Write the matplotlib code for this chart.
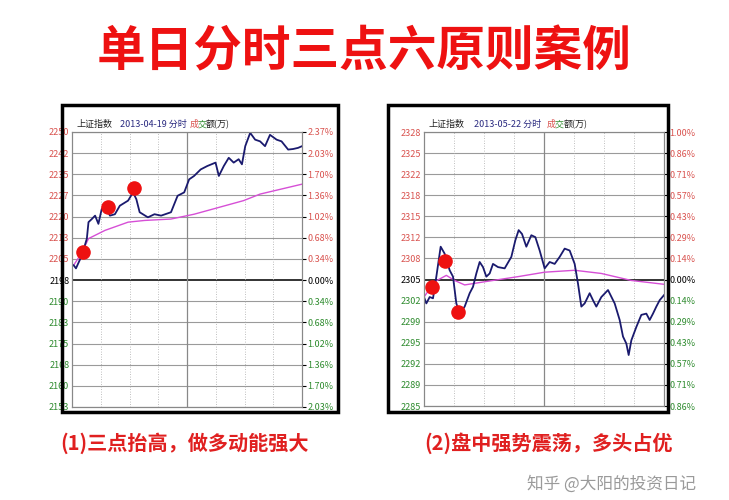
import matplotlib
matplotlib.use("Agg")
import matplotlib.pyplot as plt
from matplotlib.patches import Rectangle
import numpy as np

plt.rcParams['font.family'] = ['Noto Sans CJK SC', 'DejaVu Sans']

# ---- data: left chart (2013-04-19) ----
L_px = [35,42,60,75,80,90,100,110,120,130,145,160,175,200,215,225,235,260,280,300,330,350,370,385,400,420,440,465,475,490,505,520,535,545,555,570,585,600,615,630,650,665,685,700,715,727]
L_price = [2203.0,2201.9,2206.5,2212.4,2218.2,2219.3,2220.5,2217.6,2222.8,2224.0,2220.5,2221.0,2224.0,2225.8,2228.7,2226.3,2221.7,2219.9,2221.0,2220.5,2221.7,2227.5,2228.7,2233.3,2234.5,2236.8,2238.0,2239.2,2234.5,2238.0,2240.9,2239.2,2240.4,2238.6,2245.0,2249.7,2247.3,2246.7,2245.0,2249.0,2247.3,2246.7,2243.8,2244.0,2244.4,2245.0]
L_avg_px = [35,60,80,130,200,250,330,400,550,600,727]
L_avg = [2203.0,2207.5,2212.4,2215.3,2218.2,2218.8,2219.3,2221.0,2225.8,2228.1,2231.6]
L_dot_min = [11, 38, 65]
L_dot_val = [2207.5, 2223.4, 2230.4]
L_ticks = [2250,2242,2235,2227,2220,2213,2205,2198,2190,2183,2175,2168,2160,2153]
L_pct = ["2.37%","2.03%","1.70%","1.36%","1.02%","0.68%","0.34%","0.00%","0.34%","0.68%","1.02%","1.36%","1.70%","2.03%"]

# ---- data: right chart (2013-05-22) ----
R_px = [118,125,135,145,155,168,180,195,205,215,225,240,255,265,275,285,295,305,315,325,340,360,380,392,402,412,425,440,452,465,480,495,510,525,540,555,570,580,590,600,615,625,635,650,670,690,705,715,725,732,740,755,770,785,795,805,815,825,838]
R_price = [2302.1,2301.1,2302.1,2301.9,2305.3,2310.0,2308.9,2306.3,2305.3,2301.1,2299.5,2300.6,2302.7,2303.7,2305.8,2307.6,2306.8,2305.3,2305.8,2307.3,2306.8,2306.6,2308.4,2311.0,2312.6,2312.0,2310.0,2311.8,2311.5,2309.4,2306.6,2307.6,2307.3,2308.4,2309.7,2309.4,2307.3,2304.2,2300.6,2301.1,2302.7,2301.6,2300.6,2302.1,2303.2,2301.1,2298.5,2295.9,2294.8,2293.0,2295.3,2297.4,2299.3,2299.5,2298.5,2299.5,2300.6,2301.6,2302.4]
R_avg_px = [118,150,185,210,240,300,400,480,570,650,740,838]
R_avg = [2302.1,2304.5,2305.5,2304.7,2304.0,2304.5,2305.3,2306.0,2306.3,2305.8,2304.7,2304.1]
R_dot_min = [8, 21, 34]
R_dot_val = [2303.7, 2307.8, 2299.7]
R_ticks = [2328,2325,2322,2318,2315,2312,2308,2305,2302,2299,2295,2292,2289,2285]
R_pct = ["1.00%","0.86%","0.71%","0.57%","0.43%","0.29%","0.14%","0.00%","0.14%","0.29%","0.43%","0.57%","0.71%","0.86%"]

L_min = [(p - 30) / 697 * 240 for p in L_px]
L_avg_min = [(p - 30) / 697 * 240 for p in L_avg_px]
R_min = [(p - 118) / 720 * 240 for p in R_px]
R_avg_min = [(p - 118) / 720 * 240 for p in R_avg_px]

W, H = 729, 500
fig = plt.figure(figsize=(7.29, 5.0), dpi=100)
fig.patch.set_facecolor("white")

def fx(x): return x / W
def fy(y): return 1 - y / H

# frames
for (x0, y0, x1, y1) in [(62, 105, 338, 412), (388, 105, 668, 412)]:
    fig.patches.append(Rectangle((fx(x0), fy(y1)), fx(x1) - fx(x0), fy(y0) - fy(y1),
                                 transform=fig.transFigure, fill=False, lw=2.5, ec="black"))

RED = "#d9534f"; GRN = "#2e8b2e"

def panel(rect, ticks, pcts, mins, price, amins, avg, dmin, dval, date, close_idx=7):
    x0, y0, x1, y1 = rect
    ax = fig.add_axes([fx(x0), fy(y1), fx(x1) - fx(x0), fy(y0) - fy(y1)])
    top, bot = ticks[0], ticks[-1]
    n = len(ticks) - 1
    pos = [top - i * (top - bot) / n for i in range(len(ticks))]
    ax.set_ylim(bot, top)
    ax.set_xlim(0, 240)
    for i, p in enumerate(pos):
        ax.axhline(p, color="#333333" if i == close_idx else "#9a9a9a",
                   lw=1.4 if i == close_idx else 0.8, zorder=1)
    for k in range(1, 8):
        if k == 4:
            ax.axvline(k * 30, color="#888888", lw=0.9, zorder=1)
        else:
            ax.axvline(k * 30, color="#aaaaaa", lw=0.6, ls=(0, (1, 2)), zorder=1)
    ax.plot(amins, avg, color="#d64fd6", lw=1.0, zorder=2)
    ax.plot(mins, price, color="#1a1a6e", lw=1.3, zorder=3)
    ax.scatter(dmin, dval, s=90, color="#ee1111", zorder=4)
    ax.set_yticks(pos)
    cols = [RED if i < close_idx else ("black" if i == close_idx else GRN) for i in range(len(ticks))]
    ax.set_yticklabels([str(t) for t in ticks], fontsize=6.5)
    for lab, c in zip(ax.get_yticklabels(), cols):
        lab.set_color(c)
    ax.tick_params(axis="y", length=0, pad=2)
    ax.set_xticks([])
    ax2 = ax.twinx()
    ax2.set_ylim(bot, top)
    ax2.set_yticks(pos)
    ax2.set_yticklabels(pcts, fontsize=6.5)
    for lab, c in zip(ax2.get_yticklabels(), cols):
        lab.set_color(c)
    ax2.tick_params(axis="y", length=3, pad=1)
    for a in (ax, ax2):
        for s in a.spines.values():
            s.set_color("#888888"); s.set_linewidth(0.8)
    kw = dict(transform=ax.transAxes, fontsize=6.5, va="bottom")
    ax.text(0.02, 1.01, "上证指数", color="#222222", **kw)
    ax.text(0.21, 1.01, date + " 分时", color="#2a2a80", **kw)
    ax.text(0.51, 1.01, "成", color=RED, **kw)
    ax.text(0.545, 1.01, "交", color=GRN, **kw)
    ax.text(0.58, 1.01, "额(万)", color="#222222", **kw)
    return ax

panel((72, 132, 302, 407), L_ticks, L_pct, L_min, L_price, L_avg_min, L_avg, L_dot_min, L_dot_val, "2013-04-19")
panel((424, 132, 664, 406), R_ticks, R_pct, R_min, R_price, R_avg_min, R_avg, R_dot_min, R_dot_val, "2013-05-22")

fig.text(0.5, fy(52), "单日分时三点六原则案例", color="#ee1111", fontsize=35, fontweight="bold",
         ha="center", va="center")
fig.text(fx(185), fy(443), "(1)三点抬高，做多动能强大", color="#e02020", fontsize=14.5, fontweight="bold",
         ha="center", va="center")
fig.text(fx(548), fy(443), "(2)盘中强势震荡，多头占优", color="#e02020", fontsize=14.5, fontweight="bold",
         ha="center", va="center")
fig.text(fx(612), fy(484), "知乎 @大阳的投资日记", color="#9a9a9a", fontsize=12, ha="center", va="center")

fig.savefig("out.png", dpi=100, facecolor="white")
